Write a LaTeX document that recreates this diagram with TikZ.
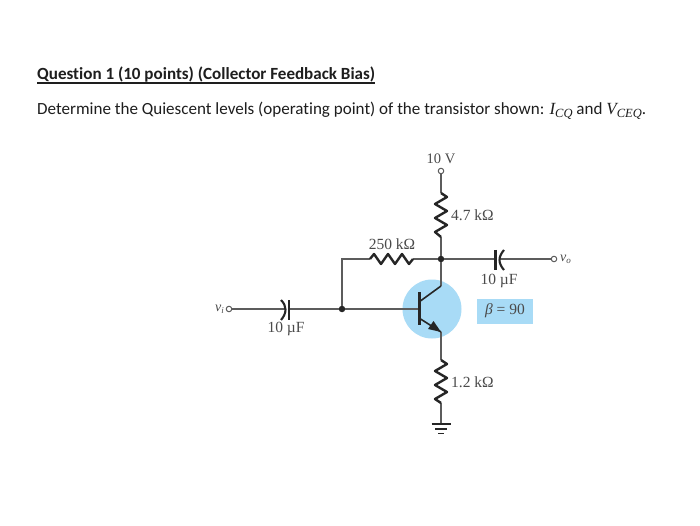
\documentclass[tikz,border=0pt]{standalone}
\usepackage{fontspec}
\setmainfont[Ligatures=NoCommon]{Carlito}
\newfontfamily\cktfont{Liberation Serif}
\usetikzlibrary{arrows.meta}
\definecolor{txt}{HTML}{1E1E1E}
\definecolor{ckt}{HTML}{4A4A4A}
\definecolor{wirec}{HTML}{5C5C5C}
\definecolor{lblue}{HTML}{A8DBF6}
\tikzset{
  x=1pt,y=-1pt,
  wire/.style={draw=wirec,line width=1.1pt},
  heavy/.style={draw=black!85,line width=2.1pt,line join=round},
  res/.style={draw=black!85,line width=2.4pt,line join=round},
  term/.style={circle,draw=wirec,fill=white,line width=1pt,inner sep=0pt,minimum size=5.5pt},
  dot/.style={circle,fill=black!85,inner sep=0pt,minimum size=6.5pt},
  lab/.style={font=\cktfont\fontsize{15.5}{17}\selectfont,text=ckt,inner sep=0pt},
  para/.style={font=\fontsize{17.05}{20}\selectfont,text=txt,inner sep=0pt,anchor=base west},
}
\newcommand{\subs}[1]{\raisebox{-0.35ex}{\fontsize{12.5}{12}\selectfont\cktfont\itshape #1}}
\begin{document}
\begin{tikzpicture}
\useasboundingbox (0,0) rectangle (700,526);
\fill[white] (0,0) rectangle (700,526);
% texts
\node[para] (title) at (37,80) {\bfseries Question 1 (10 points) (Collector Feedback Bias)};
\draw[draw=txt,line width=1.2pt] (title.base west)++(0,3) -- ([yshift=-3pt]title.base east);
\node[para] (body) at (37,115) {Determine the Quiescent levels (operating point) of the transistor shown: {\cktfont\itshape I}\subs{CQ} and {\cktfont\itshape V}\subs{CEQ}.};
% highlights
\node[circle,fill=lblue,inner sep=0pt,minimum size=59pt] (halo) at (432,309) {};
\node[rectangle,fill=lblue,inner sep=0pt,minimum width=56pt,minimum height=25pt,font=\cktfont\fontsize{15.5}{17}\selectfont,text=ckt] (beta) at (505,311) {{\itshape β} = 90};
% points
\node[term] (vcc) at (441,171) {};
\node[term] (vi) at (229,309) {};
\node[term] (vo) at (554,259) {};
\node[dot] (jc) at (441,259) {};
\node[dot] (jb) at (342,309) {};
\coordinate (r1t) at (441,193);
\coordinate (r1b) at (441,237);
\coordinate (corner) at (342,259);
\coordinate (r2l) at (370,259);
\coordinate (r2r) at (413,259);
\coordinate (c2a) at (495.5,259);
\coordinate (c2b) at (500,259);
\coordinate (c1a) at (285,309);
\coordinate (c1b) at (289,309);
\coordinate (bar) at (419,309);
\coordinate (coll) at (441,286);
\coordinate (emit) at (441,332);
\coordinate (r3t) at (441,360);
\coordinate (r3b) at (441,403);
\coordinate (gnd) at (441,424);
% wires
\draw[wire] (vcc) -- (r1t);
\draw[wire] (r1b) -- (jc);
\draw[wire] (jb) -- (corner) -- (r2l);
\draw[wire] (r2r) -- (jc);
\draw[wire] (jc) -- (c2a);
\draw[wire] (c2b) -- (vo);
\draw[wire] (vi) -- (c1a);
\draw[wire] (c1b) -- (jb);
\draw[wire] (jb) -- (bar);
\draw[wire] (jc) -- (coll);
\draw[wire] (emit) -- (r3t);
\draw[wire] (r3b) -- (gnd);
% resistors
\draw[res] (r1t) -- ++(6,4) -- ++(-12,7) -- ++(12,7) -- ++(-12,7) -- ++(12,7) -- ++(-12,7) -- (r1b);
\draw[res] (r2l) -- ++(4,-5) -- ++(7,10) -- ++(7,-10) -- ++(7,10) -- ++(7,-10) -- ++(7,10) -- (r2r);
\draw[res] (r3t) -- ++(6,4) -- ++(-12,7) -- ++(12,7) -- ++(-12,7) -- ++(12,7) -- ++(-12,7) -- (r3b);
% capacitors
\draw[heavy] (495.5,250) -- (495.5,270);
\draw[heavy] (504,250) .. controls (498,257) and (498,263) .. (504,270);
\draw[heavy] (289,300) -- (289,320);
\draw[heavy] (281,300) .. controls (287,306) and (287,313) .. (281,320);
% transistor
\draw[heavy,line width=3pt] (419,292) -- (419,325);
\draw[draw=black!85,line width=1.6pt] (419,302) -- (coll);
\draw[draw=black!85,line width=1.6pt] (419,318) -- (emit);
\fill[black!85] (emit) -- (428,329) -- (433.5,321) -- cycle;
% ground
\draw[draw=black!85,line width=2pt] (431.5,424) -- (450.5,424);
\draw[draw=black!85,line width=1.8pt] (435,429) -- (447,429);
\draw[draw=black!85,line width=1.6pt] (438,433.5) -- (444,433.5);
% labels
\node[lab,font=\cktfont\fontsize{14.5}{17}\selectfont] (l10v) at (441,159) {10 V};
\node[lab,anchor=west] (l47) at (451,215) {4.7 kΩ};
\node[lab] (l250) at (392,244) {250 kΩ};
\node[lab] (lc2) at (499,281) {10 µF};
\node[lab] (lc1) at (286,329) {10 µF};
\node[lab,anchor=west] (l12) at (451,382) {1.2 kΩ};
\node[lab,font=\cktfont\itshape\fontsize{14}{14}\selectfont,anchor=west] (lvo) at (560,259) {v\raisebox{-0.3ex}{\fontsize{9}{9}\selectfont o}};
\node[lab,font=\cktfont\itshape\fontsize{14}{14}\selectfont,anchor=east] (lvi) at (224,309) {v\raisebox{-0.3ex}{\fontsize{9}{9}\selectfont i}};
\end{tikzpicture}
\end{document}
